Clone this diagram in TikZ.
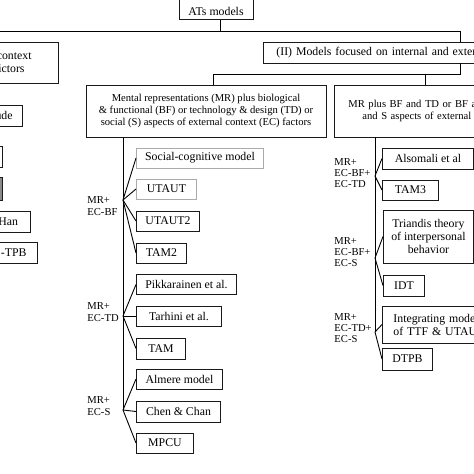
\documentclass[tikz,border=0pt]{standalone}
\usepackage{fontspec}
\setmainfont{Liberation Serif}
\definecolor{ink}{HTML}{1A1A1A}
\definecolor{edge}{HTML}{ABABAB}
\definecolor{shade}{HTML}{8A8A8A}

\begin{document}
\begin{tikzpicture}[x=1pt,y=-1pt,line width=.9pt,
  box/.style={draw=ink,anchor=west,minimum height=20,inner sep=0pt,
    font=\fontsize{11.8}{13}\selectfont},
  head/.style={draw=ink,inner sep=0pt,font=\fontsize{10.6}{12.3}\selectfont},
  tag/.style={anchor=west,align=left,inner sep=0pt,
    font=\fontsize{10.6}{11.4}\selectfont}]
  \clip (0,0) rectangle (474,474);
  \useasboundingbox (0,0) rectangle (474,474);

  % top levels
  \node[box,anchor=south,minimum width=74,text height=30pt,text depth=4pt]
    (ats) at (216,20) {ATs models};
  \node[box,anchor=east,minimum height=41,text width=140pt,align=right,inner xsep=27pt]
    (typeI) at (59,62.5) {context\\ictors\rule{7pt}{0pt}};
  \node[box,minimum height=21,text width=400pt,align=left,inner xsep=13pt]
    (typeII) at (263,52.5) {(II) Models focused on internal and extern};
  \node[head,minimum width=240,minimum height=52,align=center]
    (mrA) at (206,111) {Mental representations (MR) plus biological\\
      \& functional (BF) or technology \& design (TD) or\\
      social (S) aspects of external context (EC) factors};
  \node[head,anchor=west,minimum height=52,text width=220pt,align=left,inner xsep=14pt]
    (mrB) at (334,111) {MR plus BF and TD or BF an\\
      \hspace*{14pt}and S aspects of external c};

  \coordinate (j0) at (220,31);
  \coordinate (hL) at (-10,31);
  \coordinate (hR) at (460,31);
  \coordinate (s1) at (213,74);
  \coordinate (s2) at (460,74);
  \coordinate (s3) at (425,74);
  \draw (ats.south -| j0) -- (j0);
  \draw (hL) -- (hR) -- (hR |- typeII.north);
  \draw (typeII.south -| s2) -- (s2) -- (s1) -- (s1 |- mrA.north);
  \draw (s3) -- (s3 |- mrB.north);

  % left column (cut at the edge)
  \node[box,anchor=east,minimum height=21,text width=60pt,align=right,inner xsep=10pt]
    (ude) at (23,115.5) {ude};
  \node[box,anchor=east,minimum height=21,minimum width=80] (cutA) at (2.5,156.5) {};
  \node[box,anchor=east,minimum height=23,minimum width=80,fill=shade] (cutB) at (2.5,188.5) {};
  \node[box,anchor=east,minimum height=21,text width=60pt,align=right,inner xsep=12pt]
    (han) at (30.5,221.5) {Han};
  \node[box,anchor=east,minimum height=21,text width=60pt,align=right,inner xsep=11pt]
    (tpb) at (38,252.5) {-TPB};

  % middle column
  \node[box,draw=edge,minimum width=127] (soc) at (136,158) {Social-cognitive model};
  \node[box,draw=edge,minimum width=60] (utaut) at (136,189) {UTAUT};
  \node[box,minimum width=63] (utautb) at (136,221) {UTAUT2};
  \node[box,minimum width=50] (tamb) at (136,253) {TAM2};
  \node[box,minimum width=100] (pikk) at (136,284.5) {Pikkarainen et al.};
  \node[box,minimum width=85] (tarh) at (136,316) {Tarhini et al.};
  \node[box,minimum width=49,minimum height=21] (tam) at (136,348.5) {TAM};
  \node[box,minimum width=86] (alm) at (136,379) {Almere model};
  \node[box,minimum width=84,minimum height=21] (chen) at (136,411.5) {Chen \& Chan};
  \node[box,minimum width=57] (mpcu) at (136,443) {MPCU};

  \coordinate (f1) at (123,200);
  \coordinate (f2) at (123,316);
  \coordinate (f3) at (123,410);
  \draw (mrA.south -| f1) -- (f3);
  \foreach \b in {soc,utaut,utautb,tamb} \draw (f1) -- (\b.west);
  \foreach \b in {pikk,tarh,tam} \draw (f2) -- (\b.west);
  \foreach \b in {alm,chen,mpcu} \draw (f3) -- (\b.west);
  \node[tag] (tA) at (87,206) {MR+\\EC-BF};
  \node[tag] (tB) at (87,312) {MR+\\EC-TD};
  \node[tag] (tC) at (87,406) {MR+\\EC-S};

  % right column
  \node[box,minimum width=91,minimum height=21] (als) at (382,158.5) {Alsomali et al};
  \node[box,minimum width=56] (tamc) at (382,190) {TAM3};
  \node[box,minimum width=90,minimum height=53,align=center,
    font=\fontsize{11.8}{13}\selectfont] (tri) at (383,236.5)
    {Triandis theory\\of interpersonal\\behavior};
  \node[box,minimum width=41,minimum height=21] (idt) at (383,285.5) {IDT};
  \node[box,minimum height=37,text width=120pt,align=left,inner xsep=11pt]
    (integ) at (382,324.5) {Integrating mode\\of TTF \& UTAU};
  \node[box,minimum width=50,minimum height=22] (dtpb) at (382,359) {DTPB};

  \coordinate (g1) at (375,176);
  \coordinate (g2) at (375,258);
  \coordinate (g3) at (375,332);
  \draw (mrB.south -| g1) -- (g3);
  \foreach \b in {als,tamc} \draw (g1) -- (\b.west);
  \foreach \b in {tri,idt} \draw (g2) -- (\b.west);
  \foreach \b in {integ,dtpb} \draw (g3) -- (\b.west);
  \node[tag] (tD) at (334,173) {MR+\\EC-BF+\\EC-TD};
  \node[tag] (tE) at (334,252) {MR+\\EC-BF+\\EC-S};
  \node[tag] (tF) at (334,328) {MR+\\EC-TD+\\EC-S};
\end{tikzpicture}
\end{document}
